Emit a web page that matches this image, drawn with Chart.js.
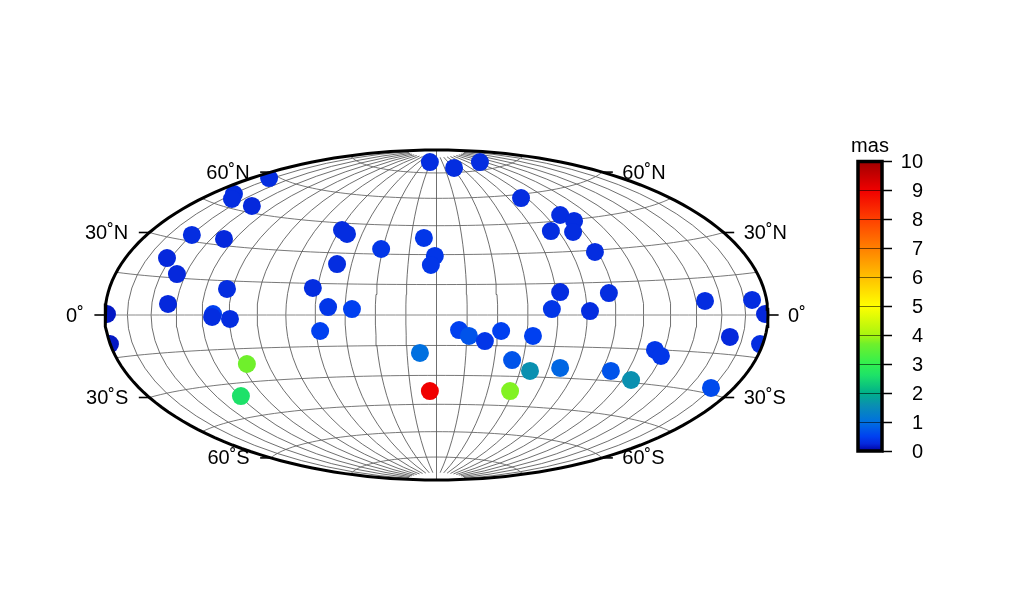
<!DOCTYPE html>
<html>
<head>
<meta charset="utf-8">
<style>
html,body{margin:0;padding:0;background:#fff;width:1024px;height:601px;overflow:hidden}
canvas{position:absolute;display:block}
#map{left:0;top:0}
#bar{left:840px;top:130px}
</style>
<script src="https://cdn.jsdelivr.net/npm/chart.js@4"></script>
</head>
<body>
<canvas id="map" width="1024" height="601"></canvas>
<canvas id="bar" width="83" height="350"></canvas>
<script>
// Station positions on the Hammer map (x, y each run -1..1 across the ellipse) and their values in mas
const pointX = [-0.020,0.053,0.131,-0.505,-0.611,-0.617,-0.557,0.255,0.373,0.415,0.345,0.412,0.478,-0.738,-0.641,-0.285,-0.270,-0.167,-0.038,-0.005,-0.017,-0.300,-0.813,-0.783,-0.632,-0.810,-0.994,-0.674,-0.677,-0.623,-0.373,-0.327,-0.255,-0.351,0.373,0.348,0.463,0.520,0.810,0.952,0.991,0.885,0.976,-0.985,0.068,0.098,0.146,0.195,0.291,-0.050,0.228,0.282,0.373,0.526,0.659,0.677,0.587,0.828,-0.572,-0.590,-0.020,0.222];
const pointY = [0.927,0.891,0.927,0.830,0.733,0.703,0.661,0.709,0.606,0.570,0.509,0.503,0.382,0.485,0.461,0.515,0.491,0.400,0.467,0.358,0.303,0.309,0.345,0.248,0.158,0.067,0.006,0.006,-0.012,-0.024,0.164,0.048,0.036,-0.097,0.139,0.036,0.024,0.133,0.085,0.091,0.006,-0.133,-0.176,-0.176,-0.091,-0.127,-0.158,-0.097,-0.127,-0.230,-0.273,-0.339,-0.321,-0.339,-0.212,-0.248,-0.394,-0.442,-0.297,-0.491,-0.461,-0.461];
const pointMas = [0.3,0.3,0.3,0.3,0.3,0.3,0.25,0.3,0.3,0.3,0.3,0.3,0.3,0.3,0.25,0.3,0.3,0.4,0.4,0.4,0.4,0.3,0.25,0.25,0.3,0.25,0.15,0.5,0.3,0.3,0.3,0.4,0.5,0.5,0.3,0.4,0.3,0.3,0.3,0.3,0.25,0.25,0.3,0.15,0.5,0.7,0.4,0.5,0.5,1.0,0.7,1.6,0.9,0.7,0.4,0.4,1.6,0.6,3.7,2.6,9.0,3.8];

// Colour scale
const scaleValues = [0,0.25,0.5,1,1.6,2,2.6,3,3.7,4,5,6,7,8,9,10];
const scaleColors = ['#0000a0','#0528dc','#0040f0','#0070e0','#0a90b0','#00b08a','#1de169','#30f050','#6ff02b','#a8f510','#ffff00','#ffc000','#ff8000','#ff4000','#f00000','#a00000'];
const colorbarTicks = [0,1,2,3,4,5,6,7,8,9,10];
const colorbarUnit = 'mas';

// Graticule
const parallels = [-75,-60,-45,-30,-15,0,15,30,45,60,75];
const meridians = [-165,-150,-135,-120,-105,-90,-75,-60,-45,-30,-15,15,30,45,60,75,90,105,120,135,150,165];
const latTicks = [60,30,0,-30,-60];
const latLabels = ['60˚N','30˚N','0˚','30˚S','60˚S'];

const FONT = '"Liberation Sans", Arial, sans-serif';

function hammer(lon, lat){
  const p = lat*Math.PI/180, l = lon*Math.PI/360;
  const d = Math.sqrt(1+Math.cos(p)*Math.cos(l));
  return {x: Math.cos(p)*Math.sin(l)/d, y: Math.sin(p)/d};
}
function range(a,b,step){const r=[];for(let v=a;v<=b+1e-9;v+=step)r.push(v);return r;}
function hex(c){return [1,3,5].map(i=>parseInt(c.substr(i,2),16));}
function colorFor(v){
  let i=0; while(i<scaleValues.length-2 && v>scaleValues[i+1]) i++;
  const t=(v-scaleValues[i])/(scaleValues[i+1]-scaleValues[i]);
  const a=hex(scaleColors[i]), b=hex(scaleColors[i+1]);
  return 'rgb('+a.map((c,k)=>Math.round(c+(b[k]-c)*t)).join(',')+')';
}
function lineSet(label,data,color,width,order){
  return {type:'scatter',label,data,showLine:true,borderColor:color,borderWidth:width,pointRadius:0,pointHoverRadius:0,fill:false,tension:0,order,clip:false};
}
const datasets = [];
parallels.forEach(lat=>{
  datasets.push(lineSet('parallel '+lat, range(-180,180,5).map(lon=>hammer(lon,lat)), lat===0?'#8a8a8a':'#555555', lat===0?1:0.8, 3));
});
meridians.forEach(lon=>{
  datasets.push(lineSet('meridian '+lon, range(-85,85,5).map(lat=>hammer(lon,lat)), '#4a4a4a', 0.8, 3));
});
datasets.push(lineSet('meridian 0', range(-90,90,10).map(lat=>hammer(0,lat)), '#4a4a4a', 0.8, 3));
const TICK_LEN = 0.032;
latTicks.forEach(lat=>{
  const e = hammer(180,lat);
  datasets.push(lineSet('tick L'+lat,[{x:-e.x-TICK_LEN,y:e.y},{x:-e.x,y:e.y}],'#000',1.6,0));
  datasets.push(lineSet('tick R'+lat,[{x:e.x,y:e.y},{x:e.x+TICK_LEN,y:e.y}],'#000',1.6,0));
});
datasets.push(lineSet('frame', range(0,360,2).map(t=>({x:Math.cos(t*Math.PI/180),y:Math.sin(t*Math.PI/180)})), '#000', 3, 0));
datasets.push({type:'scatter',label:'stations',
  data:pointX.map((x,i)=>({x,y:pointY[i]})),
  backgroundColor:pointMas.map(colorFor),borderWidth:0,pointRadius:9,pointHoverRadius:9,order:1,clip:false});

const ellipseClip = {
  id:'ellipseClip',
  beforeDatasetDraw(chart,args){
    if(chart.data.datasets[args.index].label!=='stations') return;
    const {x,y}=chart.scales, c=chart.ctx;
    c.save(); c.beginPath();
    c.ellipse(x.getPixelForValue(0),y.getPixelForValue(0),
      x.getPixelForValue(1)-x.getPixelForValue(0),
      y.getPixelForValue(0)-y.getPixelForValue(1),0,0,Math.PI*2);
    c.clip();
  },
  afterDatasetDraw(chart,args){
    if(chart.data.datasets[args.index].label==='stations') chart.ctx.restore();
  }
};
const latText = {
  id:'latText',
  afterDraw(chart){
    const {x,y}=chart.scales, c=chart.ctx;
    c.save(); c.fillStyle='#000'; c.font='20px '+FONT; c.textBaseline='middle';
    latTicks.forEach((lat,i)=>{
      const e=hammer(180,lat), py=y.getPixelForValue(e.y)+1;
      c.textAlign='right'; c.fillText(latLabels[i],x.getPixelForValue(-e.x-TICK_LEN)-10.5,py);
      c.textAlign='left';  c.fillText(latLabels[i],x.getPixelForValue(e.x+TICK_LEN)+9.5,py);
    });
    c.restore();
  }
};
new Chart(document.getElementById('map'),{
  type:'scatter',
  data:{datasets},
  plugins:[ellipseClip,latText],
  options:{
    responsive:false,animation:false,devicePixelRatio:1,
    layout:{padding:{left:105,right:256,top:150,bottom:121}},
    plugins:{legend:{display:false},tooltip:{enabled:false},title:{display:false}},
    scales:{
      x:{type:'linear',min:-1,max:1,display:false},
      y:{type:'linear',min:-1,max:1,display:false}
    }
  }
});

const barFrame = {
  id:'barFrame',
  afterDraw(chart){
    const a=chart.chartArea,c=chart.ctx;
    c.save();
    c.strokeStyle='#000';c.lineWidth=3.5;
    c.strokeRect(a.left,a.top,a.right-a.left,a.bottom-a.top);
    c.fillStyle='#000';c.font='20px '+FONT;c.textAlign='center';c.textBaseline='alphabetic';
    c.fillText(colorbarUnit,(a.left+a.right)/2,a.top-10);
    c.restore();
  }
};
new Chart(document.getElementById('bar'),{
  type:'bar',
  data:{labels:[colorbarUnit],datasets:[{
    data:[[colorbarTicks[0],colorbarTicks[colorbarTicks.length-1]]],
    barPercentage:1,categoryPercentage:1,borderWidth:0,
    backgroundColor(ctx){
      const a=ctx.chart.chartArea; if(!a) return '#00f';
      const g=ctx.chart.ctx.createLinearGradient(0,a.bottom,0,a.top);
      scaleValues.forEach((v,i)=>g.addColorStop(v/10,scaleColors[i]));
      return g;
    }
  }]},
  plugins:[barFrame],
  options:{
    responsive:false,animation:false,devicePixelRatio:1,
    layout:{padding:{left:18,right:0,top:31.5,bottom:29}},
    plugins:{legend:{display:false},tooltip:{enabled:false},title:{display:false}},
    scales:{
      x:{display:false},
      y:{position:'right',min:0,max:10,
        afterFit(s){s.width=41;},
        border:{display:false},
        grid:{display:true,z:1,color:'rgba(0,0,0,0.55)',lineWidth:1,tickColor:'#000',tickWidth:1.5,tickLength:10},
        ticks:{stepSize:1,autoSkip:false,crossAlign:'far',padding:9,labelOffset:1,color:'#000',font:{family:FONT,size:20}}
      }
    }
  }
});
</script>
</body>
</html>
